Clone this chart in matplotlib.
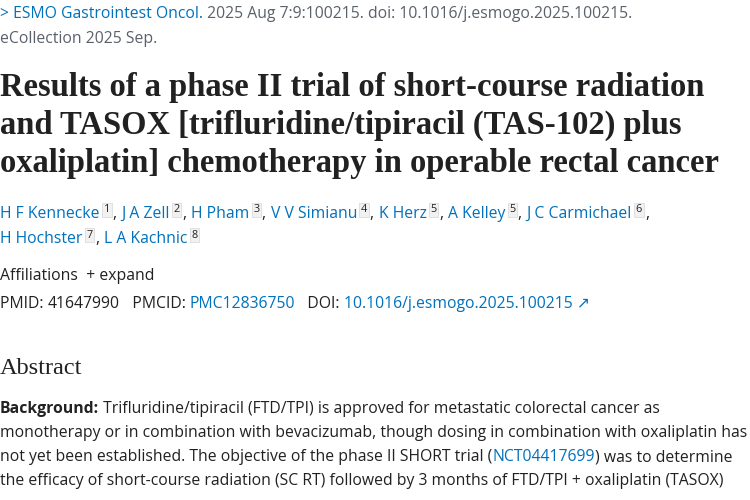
import matplotlib
matplotlib.use("Agg")
import matplotlib.pyplot as plt

BLUE = "#0071bc"
GRAY = "#5b616b"
DARK = "#212121"
SANS = ["Open Sans", "DejaVu Sans"]
SERIF = "Liberation Serif"

citation = [[("> ESMO Gastrointest Oncol.", BLUE), (" 2025 Aug 7:9:100215. doi: 10.1016/j.esmogo.2025.100215.", GRAY)],
            [("eCollection 2025 Sep.", GRAY)]]
title_lines = ["Results of a phase II trial of short-course radiation",
               "and TASOX [trifluridine/tipiracil (TAS-102) plus",
               "oxaliplatin] chemotherapy in operable rectal cancer"]
authors1 = [("H F Kennecke", "1"), ("J A Zell", "2"), ("H Pham", "3"), ("V V Simianu", "4"),
            ("K Herz", "5"), ("A Kelley", "5"), ("J C Carmichael", "6")]
authors2 = [("H Hochster", "7"), ("L A Kachnic", "8")]
ids = [("PMID: ", DARK), ("41647990", DARK), ("   PMCID: ", DARK), ("PMC12836750", BLUE),
       ("   DOI: ", DARK), ("10.1016/j.esmogo.2025.100215 ↗", BLUE)]
body = [[("Background:", DARK, "bold"), (" Trifluridine/tipiracil (FTD/TPI) is approved for metastatic colorectal cancer as", DARK, "normal")],
        [("monotherapy or in combination with bevacizumab, though dosing in combination with oxaliplatin has", DARK, "normal")],
        [("not yet been established. The objective of the phase II SHORT trial (", DARK, "normal"), ("NCT04417699", BLUE, "normal"), (") was to determine", DARK, "normal")],
        [("the efficacy of short-course radiation (SC RT) followed by 3 months of FTD/TPI + oxaliplatin (TASOX)", DARK, "normal")]]

W, H = 750, 500
fig = plt.figure(figsize=(7.5, 5), dpi=100)
fig.patch.set_facecolor("white")
r = fig.canvas.get_renderer()

def put(x, y, s, color, size, family=SANS, weight="normal"):
    t = fig.text(x / W, 1 - y / H, s, color=color, fontsize=size, family=family,
                 weight=weight, va="center", ha="left")
    bb = t.get_window_extent(r)
    return x + bb.width

def seq(x, y, segs, size, family=SANS):
    for seg in segs:
        s, c = seg[0], seg[1]
        w = seg[2] if len(seg) > 2 else "normal"
        x = put(x, y, s, c, size, family, w)
    return x

fs = 11.3
seq(0, 14, citation[0], fs)
seq(0, 39, citation[1], fs)
for i, line in enumerate(title_lines):
    put(0, 88 + i * 37.5, line, DARK, 23.5, SERIF, "bold")

def authors(y, lst, trailing):
    x = 0
    for i, (n, s) in enumerate(lst):
        x = put(x, y, n, BLUE, fs)
        x += 4
        t = fig.text(x / W, 1 - (y - 4) / H, s, color=DARK, fontsize=7.8, family=SANS,
                     va="center", ha="left",
                     bbox=dict(boxstyle="square,pad=0.15", fc="#f1f1f1", ec="#dcdcdc", lw=0.6))
        x += t.get_window_extent(r).width + 3
        if i < len(lst) - 1 or trailing:
            x = put(x, y, ", " if i < len(lst) - 1 else ",", DARK, fs)

authors(214, authors1, True)
authors(239, authors2, False)
seq(0, 276, [("Affiliations", DARK), ("  + expand", DARK)], fs)
seq(0, 304, ids, fs)
put(0, 369, "Abstract", DARK, 17.5, SERIF)
for i, line in enumerate(body):
    seq(0, 409 + i * 24, line, fs)

fig.savefig("out.png", dpi=100, facecolor="white")
